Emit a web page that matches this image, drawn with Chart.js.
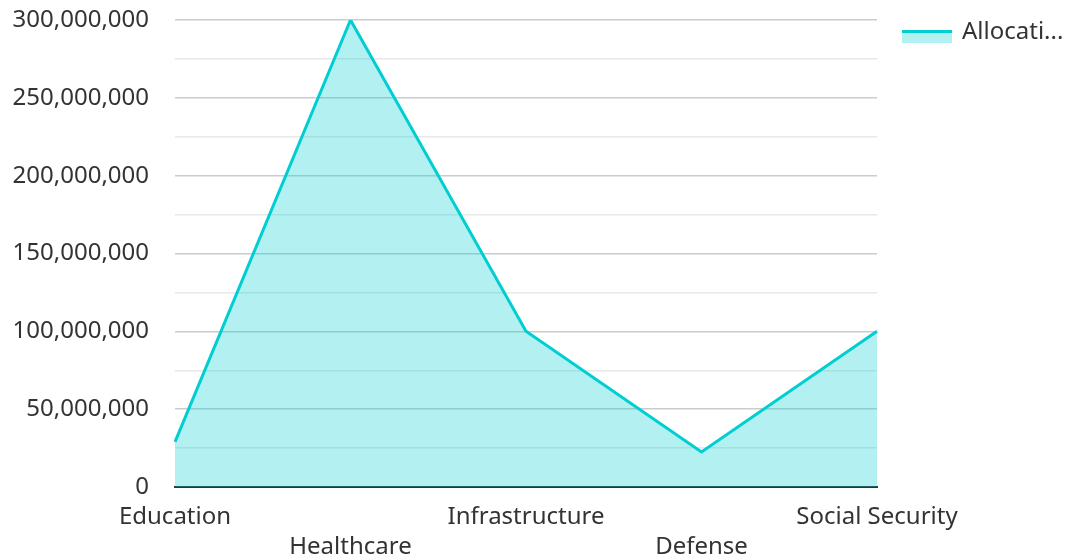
<!DOCTYPE html>
<html>
<head>
<meta charset="utf-8">
<script src="https://cdn.jsdelivr.net/npm/chart.js@4/dist/chart.umd.min.js"></script>
<style>
  html, body { margin: 0; padding: 0; background: #fff; }
  #wrap { width: 1067px; height: 559px; position: relative; }
</style>
</head>
<body>
<div id="wrap"><canvas id="chart"></canvas></div>
<script>
const categories = ['Education', 'Healthcare', 'Infrastructure', 'Defense', 'Social Security'];
const allocations = [29000000, 300000000, 100000000, 22500000, 100000000];
const seriesLabel = 'Allocation';
const yMax = 300000000;
const yStep = 25000000;       // grid every 25M
const yLabelStep = 50000000;  // labels every 50M

const LINE = '#00CED1';
const FILL = 'rgba(0, 206, 209, 0.3)';
const TEXT = '#333333';
const FONT = '"Noto Sans", sans-serif';

// stagger the x labels onto two rows
const xLabels = categories.map((c, i) => i % 2 === 0 ? [c] : ['', c]);

// legend drawn by hand: filled box with a thick top line, truncated text
const sideLegend = {
    id: 'sideLegend',
    afterDraw(chart) {
        const ctx = chart.ctx;
        const x = 902, y = 30, w = 50, h = 13;
        ctx.save();
        ctx.fillStyle = FILL;
        ctx.fillRect(x, y, w, h);
        ctx.fillStyle = LINE;
        ctx.fillRect(x, y, w, 3);
        const text = seriesLabel.length > 9 ? seriesLabel.slice(0, 8) + '...' : seriesLabel;
        ctx.font = '24px ' + FONT;
        ctx.fillStyle = TEXT;
        ctx.textBaseline = 'middle';
        ctx.fillText(text, x + w + 10, y + 2);
        ctx.restore();
    }
};

new Chart(document.getElementById('chart'), {
    type: 'line',
    data: {
        labels: xLabels,
        datasets: [{
            label: seriesLabel,
            data: allocations,
            borderColor: LINE,
            backgroundColor: FILL,
            borderWidth: 3,
            fill: 'origin',
            tension: 0,
            pointRadius: 0
        }]
    },
    options: {
        responsive: true,
        maintainAspectRatio: false,
        animation: false,
        layout: { padding: { left: 10, right: 190, top: 20, bottom: 0 } },
        plugins: {
            legend: { display: false },
            tooltip: { enabled: false }
        },
        scales: {
            x: {
                offset: false,
                border: { display: true, color: TEXT, width: 2 },
                grid: { display: false },
                afterFit: (s) => { s.height = 72; s.paddingLeft = 0; s.paddingRight = 0; },
                ticks: {
                    autoSkip: false,
                    maxRotation: 0,
                    minRotation: 0,
                    padding: 7,
                    color: TEXT,
                    font: { family: FONT, size: 24, lineHeight: 1.25 }
                }
            },
            y: {
                min: 0,
                max: yMax,
                border: { display: false },
                afterFit: (s) => { s.width = 165; s.paddingTop = 0; s.paddingBottom = 0; },
                grid: {
                    drawTicks: false,
                    color: (c) => (c.tick && c.tick.value % yLabelStep === 0) ? '#cccccc' : '#e8e8e8',
                    lineWidth: 1.5
                },
                ticks: {
                    stepSize: yStep,
                    padding: 26,
                    color: TEXT,
                    font: { family: FONT, size: 24 },
                    callback: (v) => v % yLabelStep === 0 ? v.toLocaleString('en-US') : ''
                }
            }
        }
    },
    plugins: [sideLegend]
});
</script>
</body>
</html>
